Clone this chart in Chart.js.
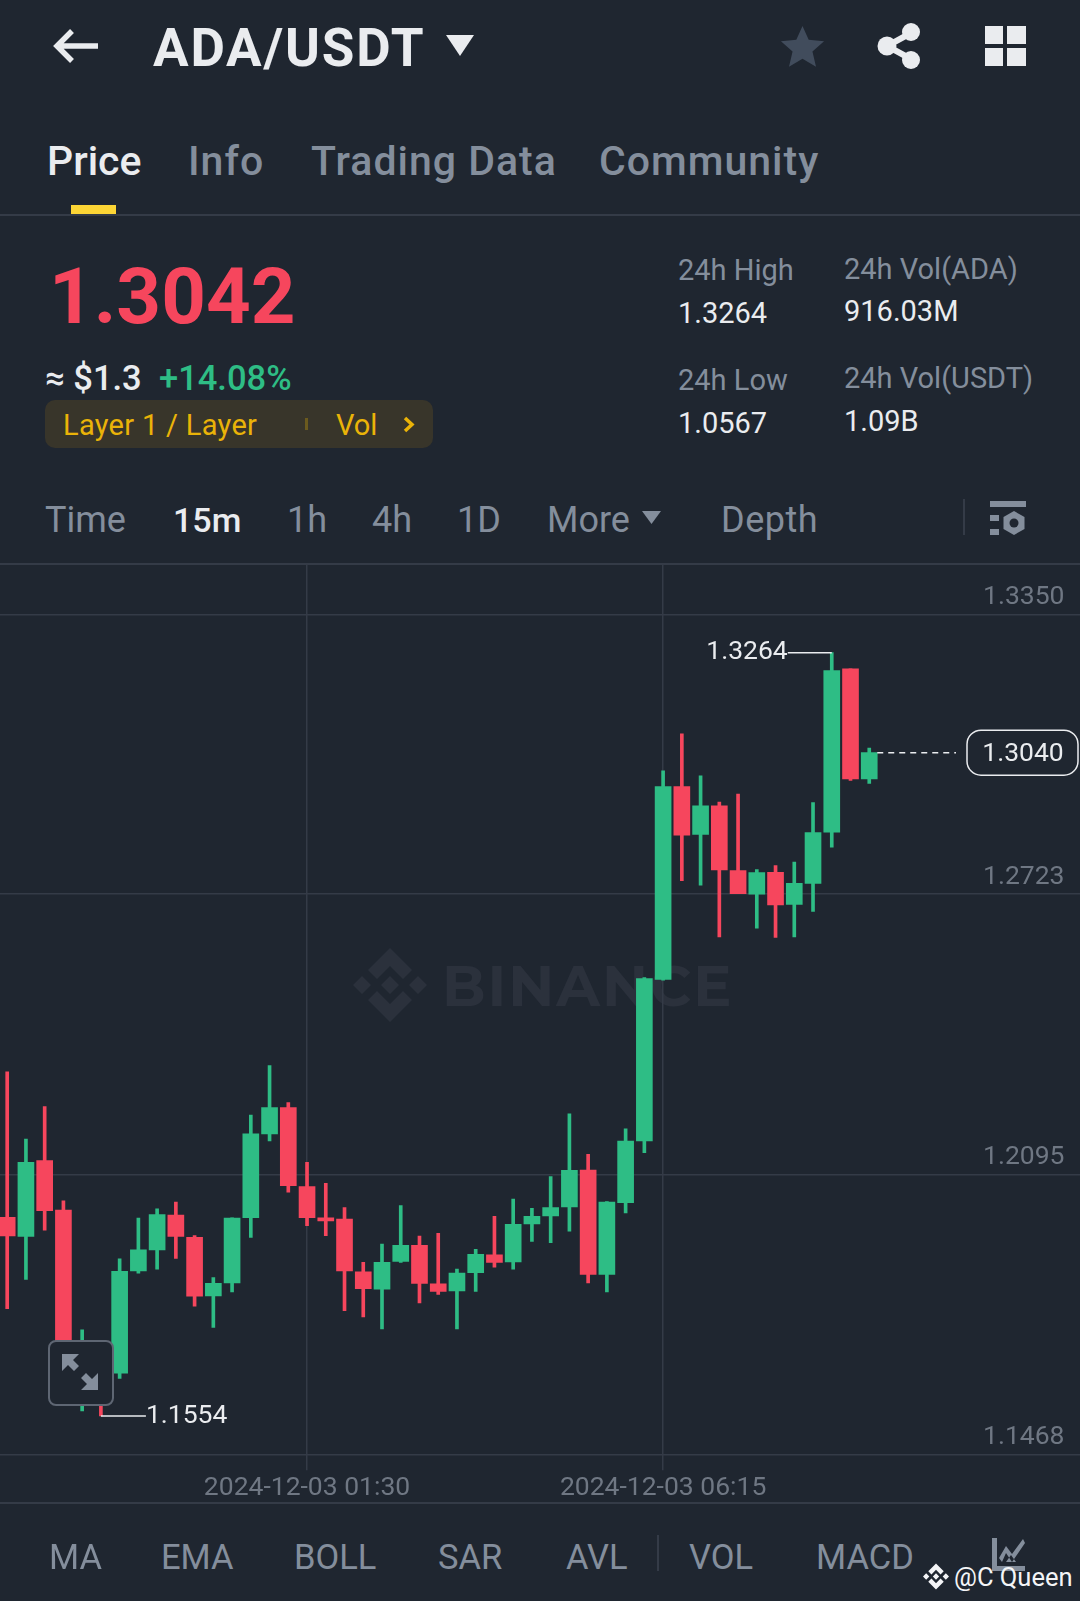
<!DOCTYPE html>
<html>
<head>
  <meta charset="UTF-8">
  <title>ADA/USDT</title>
  <script src="https://cdn.jsdelivr.net/npm/chart.js"></script>
  <style>
    html, body { margin: 0; padding: 0; background: #1f2630; }
    body { position: relative; width: 1080px; height: 1601px; overflow: hidden; font-family: Roboto, sans-serif; color: #848e9c; }
    .t { position: absolute; white-space: nowrap; line-height: 1; transform: translateY(-50%); }
    .hr { position: absolute; left: 0; width: 1080px; height: 2px; background: #343b47; }
    .w { color: #eaecef; }
    svg { position: absolute; }
    #wrap { position: absolute; left: 0; top: 564px; width: 1080px; height: 938px; }
    #expand { position: absolute; left: 48px; top: 1340px; width: 62px; height: 62px; border: 2px solid #5e6673; border-radius: 8px; background: #1f2630; }
    #mark { position: absolute; left: 442px; top: 985px; font: 700 57px Montserrat, "Open Sans", sans-serif; color: #2b313c; letter-spacing: 2px; line-height: 1; transform: translateY(-50%); }
  </style>
</head>
<body>
  <!-- header -->
  <svg style="left:52px;top:28px" width="48" height="36" viewBox="0 0 48 36"><path d="M20 3 L5 18 L20 33 M5 18 H46" fill="none" stroke="#eaecef" stroke-width="5.5"/></svg>
  <span class="t w" style="left:153px;top:48px;font-size:53px;font-weight:700;letter-spacing:1.8px;">ADA/USDT</span>
  <svg style="left:446px;top:35px" width="28" height="21"><path d="M0 0 H28 L14 21 Z" fill="#eaecef"/></svg>
  <svg style="left:780px;top:24px" width="45" height="45" viewBox="0 0 24 24"><path d="M12 1 L15.3 8.4 L23.5 9.2 L17.3 14.6 L19.2 22.8 L12 18.5 L4.8 22.8 L6.7 14.6 L0.5 9.2 L8.7 8.4 Z" fill="#414c5c"/></svg>
  <svg style="left:877px;top:23px" width="44" height="46" viewBox="0 0 44 46"><path d="M34 10 L10 23 L34 36" fill="none" stroke="#eaecef" stroke-width="6"/><circle cx="34" cy="9" r="9" fill="#eaecef"/><circle cx="10" cy="23" r="9.5" fill="#eaecef"/><circle cx="34" cy="37" r="9" fill="#eaecef"/></svg>
  <svg style="left:985px;top:26px" width="41" height="40"><rect width="18" height="18" fill="#eaecef"/><rect x="22" width="19" height="18" fill="#eaecef"/><rect y="22" width="18" height="18" fill="#eaecef"/><rect x="22" y="22" width="19" height="18" fill="#eaecef"/></svg>

  <span class="t w" style="left:47px;top:161px;font-size:41px;font-weight:500;">Price</span>
  <span class="t" style="left:188px;top:161px;font-size:41px;font-weight:500;letter-spacing:1px;">Info</span>
  <span class="t" style="left:311px;top:161px;font-size:41px;font-weight:500;letter-spacing:1px;">Trading Data</span>
  <span class="t" style="left:599px;top:161px;font-size:41px;font-weight:500;letter-spacing:1px;">Community</span>
  <div style="position:absolute;left:71px;top:205px;width:45px;height:9px;background:#fcd535;"></div>
  <div class="hr" style="top:214px;"></div>

  <!-- price block -->
  <span class="t" style="left:49px;top:297px;font-size:78px;font-weight:700;color:#f6465d;">1.3042</span>
  <span class="t w" style="left:45px;top:378px;font-size:34.5px;font-weight:500;">≈ $1.3</span>
  <span class="t" style="left:159px;top:378px;font-size:34.5px;font-weight:500;color:#2ebd85;">+14.08%</span>
  <div style="position:absolute;left:45px;top:400px;width:388px;height:48px;border-radius:10px;background:#38352a;"></div>
  <span class="t" style="left:63px;top:425px;font-size:29px;letter-spacing:.3px;color:#eab308;">Layer 1 / Layer</span>
  <div style="position:absolute;left:305px;top:418px;width:3px;height:12px;background:#6b5a1e;"></div>
  <span class="t" style="left:336px;top:425px;font-size:29px;color:#eab308;">Vol</span>
  <svg style="left:402px;top:416px" width="14" height="17"><path d="M3 2 L10 8.5 L3 15" fill="none" stroke="#eab308" stroke-width="3.5"/></svg>

  <span class="t" style="left:678px;top:270px;font-size:29px;">24h High</span>
  <span class="t w" style="left:678px;top:313px;font-size:29px;">1.3264</span>
  <span class="t" style="left:844px;top:269px;font-size:29px;">24h Vol(ADA)</span>
  <span class="t w" style="left:844px;top:311px;font-size:29px;">916.03M</span>
  <span class="t" style="left:678px;top:380px;font-size:29px;">24h Low</span>
  <span class="t w" style="left:678px;top:423px;font-size:29px;">1.0567</span>
  <span class="t" style="left:844px;top:378px;font-size:29px;">24h Vol(USDT)</span>
  <span class="t w" style="left:844px;top:421px;font-size:29px;">1.09B</span>

  <!-- interval row -->
  <span class="t" style="left:45px;top:520px;font-size:36px;">Time</span>
  <span class="t w" style="left:173px;top:520px;font-size:34px;font-weight:500;">15m</span>
  <span class="t" style="left:287px;top:520px;font-size:36px;">1h</span>
  <span class="t" style="left:372px;top:520px;font-size:36px;">4h</span>
  <span class="t" style="left:457px;top:520px;font-size:36px;">1D</span>
  <span class="t" style="left:547px;top:520px;font-size:36px;">More</span>
  <svg style="left:642px;top:511px" width="19" height="13"><path d="M0 0 H19 L9.5 13 Z" fill="#848e9c"/></svg>
  <span class="t" style="left:721px;top:520px;font-size:36px;letter-spacing:.5px;">Depth</span>
  <div style="position:absolute;left:963px;top:499px;width:2px;height:36px;background:#343b47;"></div>
  <svg style="left:990px;top:501px" width="36" height="35" viewBox="0 0 36 35"><rect width="36" height="6" fill="#848e9c"/><rect y="14" width="9" height="6" fill="#848e9c"/><rect y="28" width="9" height="6" fill="#848e9c"/><path d="M24 10 L34.5 16 V28 L24 34 L13.5 28 V16 Z" fill="#848e9c"/><circle cx="24" cy="22" r="4.5" fill="#1f2630"/></svg>
  <div class="hr" style="top:563px;"></div>

  <!-- watermark behind the candles -->
  <svg style="left:353px;top:948px" width="74" height="74" viewBox="0 0 74 74"><path d="M37 0 L59 22 L50 31 L37 18 L24 31 L15 22 Z M37 74 L59 52 L50 43 L37 56 L24 43 L15 52 Z M9 28 L18 37 L9 46 L0 37 Z M65 28 L74 37 L65 46 L56 37 Z M37 28 L46 37 L37 46 L28 37 Z" fill="#2b313c"/></svg>
  <span id="mark">BINANCE</span>

  <div id="wrap"><canvas id="chart" width="1080" height="938"></canvas></div>

  <div id="expand"></div>
  <svg style="left:60px;top:1352px" width="40" height="40" viewBox="0 0 40 40"><path d="M2 2 H19 L13 8 L19 14 L14 19 L8 13 L2 19 Z M38 38 H21 L27 32 L21 26 L26 21 L32 27 L38 21 Z" fill="#848e9c"/></svg>

  <div class="hr" style="top:1502px;"></div>

  <!-- indicator row -->
  <span class="t" style="left:49px;top:1557px;font-size:34.5px;">MA</span>
  <span class="t" style="left:161px;top:1557px;font-size:34.5px;">EMA</span>
  <span class="t" style="left:294px;top:1557px;font-size:34.5px;">BOLL</span>
  <span class="t" style="left:438px;top:1557px;font-size:34.5px;">SAR</span>
  <span class="t" style="left:566px;top:1557px;font-size:34.5px;">AVL</span>
  <div style="position:absolute;left:657px;top:1535px;width:2px;height:36px;background:#343b47;"></div>
  <span class="t" style="left:689px;top:1557px;font-size:34.5px;">VOL</span>
  <span class="t" style="left:816px;top:1557px;font-size:34.5px;">MACD</span>
  <svg style="left:992px;top:1538px" width="33" height="33" viewBox="0 0 33 33"><path d="M0 0 H5 V28 H33 V33 H0 Z M7 20 L14 8 L20 16 L31 1 L33 5 L20 24 L14 15 L10 24 Z M14 24 H24 L19 17 Z" fill="#848e9c"/></svg>
  <svg style="left:923px;top:1563px" width="26" height="27" viewBox="0 0 74 74"><path d="M37 0 L59 22 L50 31 L37 18 L24 31 L15 22 Z M37 74 L59 52 L50 43 L37 56 L24 43 L15 52 Z M9 28 L18 37 L9 46 L0 37 Z M65 28 L74 37 L65 46 L56 37 Z M37 28 L46 37 L37 46 L28 37 Z" fill="#f4f5f7"/></svg>
  <span class="t" style="left:954px;top:1578px;font-size:25.5px;color:#f4f5f7;">@C Queen</span>

  <script>
    const times = [
      '2024-12-02 21:30', '2024-12-02 21:45', '2024-12-02 22:00', '2024-12-02 22:15', '2024-12-02 22:30', '2024-12-02 22:45',
      '2024-12-02 23:00', '2024-12-02 23:15', '2024-12-02 23:30', '2024-12-02 23:45', '2024-12-03 00:00', '2024-12-03 00:15',
      '2024-12-03 00:30', '2024-12-03 00:45', '2024-12-03 01:00', '2024-12-03 01:15', '2024-12-03 01:30', '2024-12-03 01:45',
      '2024-12-03 02:00', '2024-12-03 02:15', '2024-12-03 02:30', '2024-12-03 02:45', '2024-12-03 03:00', '2024-12-03 03:15',
      '2024-12-03 03:30', '2024-12-03 03:45', '2024-12-03 04:00', '2024-12-03 04:15', '2024-12-03 04:30', '2024-12-03 04:45',
      '2024-12-03 05:00', '2024-12-03 05:15', '2024-12-03 05:30', '2024-12-03 05:45', '2024-12-03 06:00', '2024-12-03 06:15',
      '2024-12-03 06:30', '2024-12-03 06:45', '2024-12-03 07:00', '2024-12-03 07:15', '2024-12-03 07:30', '2024-12-03 07:45',
      '2024-12-03 08:00', '2024-12-03 08:15', '2024-12-03 08:30', '2024-12-03 08:45', '2024-12-03 09:00'
    ];
    const opens = [
      1.1999, 1.1956, 1.2126, 1.2015, 1.1660, 1.1660, 1.1650, 1.1879, 1.1926, 1.2004,
      1.1954, 1.1823, 1.1852, 1.1998, 1.2186, 1.2245, 1.2068, 1.1998, 1.1995, 1.1877,
      1.1838, 1.1900, 1.1936, 1.1850, 1.1834, 1.1875, 1.1915, 1.1899, 1.1984, 1.2002,
      1.2022, 1.2105, 1.1871, 1.2032, 1.2170, 1.2532, 1.2964, 1.2857, 1.2921, 1.2776,
      1.2723, 1.2772, 1.2700, 1.2747, 1.2862, 1.3228, 1.2981
    ];
    const closes = [
      1.1957, 1.2122, 1.2014, 1.1680, 1.1680, 1.1650, 1.1878, 1.1926, 1.2005, 1.1956,
      1.1822, 1.1851, 1.1997, 1.2186, 1.2245, 1.2070, 1.1998, 1.1991, 1.1879, 1.1839,
      1.1898, 1.1936, 1.1851, 1.1833, 1.1874, 1.1916, 1.1898, 1.1983, 1.2001, 1.2021,
      1.2104, 1.1871, 1.2033, 1.2170, 1.2534, 1.2964, 1.2855, 1.2921, 1.2777, 1.2724,
      1.2771, 1.2699, 1.2747, 1.2861, 1.3224, 1.2981, 1.3040
    ];
    const highs = [
      1.2325, 1.2174, 1.2247, 1.2036, 1.1747, 1.1680, 1.1906, 1.1997, 1.2018, 1.2033,
      1.1958, 1.1864, 1.1998, 1.2228, 1.2339, 1.2256, 1.2122, 1.2075, 1.2021, 1.1898,
      1.1939, 1.2025, 1.1957, 1.1963, 1.1883, 1.1927, 1.2001, 1.2040, 1.2019, 1.2090,
      1.2231, 1.2140, 1.2034, 1.2197, 1.2536, 1.2999, 1.3082, 1.2988, 1.2929, 1.2947,
      1.2778, 1.2787, 1.2795, 1.2928, 1.3264, 1.3228, 1.3050
    ];
    const lows = [
      1.1794, 1.1860, 1.1970, 1.1670, 1.1565, 1.1554, 1.1638, 1.1874, 1.1883, 1.1907,
      1.1800, 1.1752, 1.1832, 1.1954, 1.2170, 1.2055, 1.1980, 1.1958, 1.1790, 1.1776,
      1.1749, 1.1898, 1.1807, 1.1826, 1.1749, 1.1833, 1.1887, 1.1883, 1.1945, 1.1942,
      1.1968, 1.1852, 1.1832, 1.2009, 1.2144, 1.2530, 1.2753, 1.2743, 1.2627, 1.2724,
      1.2647, 1.2626, 1.2627, 1.2684, 1.2828, 1.2978, 1.2971
    ];
    const yTicks = [1.1468, 1.2095, 1.2723, 1.3350];
    const xTicks = [16, 35];
    const highMark = { index: 44, value: 1.3264 };
    const lowMark = { index: 5, value: 1.1554 };
    const lastPrice = { index: 46, value: 1.3040 };

    const UP = '#2ebd85', DOWN = '#f6465d';
    const colors = opens.map((o, i) => closes[i] >= o ? UP : DOWN);

    // marks and current price go on the canvas, positioned through the scales
    const markers = {
      id: 'markers',
      afterDatasetsDraw(c) {
        const ctx = c.ctx, x = c.scales.x, y = c.scales.y;
        ctx.save();
        ctx.font = '26.5px Roboto';
        ctx.textBaseline = 'middle';
        ctx.strokeStyle = ctx.fillStyle = '#eaecef';
        ctx.lineWidth = 1.5;

        let px = x.getPixelForValue(highMark.index), py = y.getPixelForValue(highMark.value);
        ctx.beginPath(); ctx.moveTo(px, py); ctx.lineTo(px - 44, py); ctx.stroke();
        ctx.textAlign = 'right';
        ctx.fillText(highMark.value.toFixed(4), px - 44, py);

        px = x.getPixelForValue(lowMark.index); py = y.getPixelForValue(lowMark.value);
        ctx.beginPath(); ctx.moveTo(px, py); ctx.lineTo(px + 45, py); ctx.stroke();
        ctx.textAlign = 'left';
        ctx.fillText(lowMark.value.toFixed(4), px + 45, py);

        px = x.getPixelForValue(lastPrice.index); py = y.getPixelForValue(lastPrice.value);
        ctx.setLineDash([6, 5]);
        ctx.beginPath(); ctx.moveTo(px + 8, py); ctx.lineTo(956, py); ctx.stroke();
        ctx.setLineDash([]);
        ctx.fillStyle = '#1f2630';
        ctx.beginPath(); ctx.roundRect(967, py - 22.5, 111, 45, 14); ctx.fill(); ctx.stroke();
        ctx.fillStyle = '#eaecef';
        ctx.textAlign = 'center';
        ctx.fillText(lastPrice.value.toFixed(4), 1023, py + 2);
        ctx.restore();
      }
    };

    new Chart(document.getElementById('chart').getContext('2d'), {
      type: 'bar',
      data: {
        datasets: [
          {
            label: 'wick',
            data: times.map((t, i) => ({ x: i, y: [lows[i], highs[i]] })),
            backgroundColor: colors,
            barThickness: 3,
            grouped: false,
            order: 2
          },
          {
            label: 'body',
            data: times.map((t, i) => ({ x: i, y: [opens[i], closes[i]] })),
            backgroundColor: colors,
            barThickness: 16,
            grouped: false,
            order: 1
          }
        ]
      },
      options: {
        responsive: false,
        animation: false,
        layout: { padding: 0 },
        plugins: { legend: { display: false }, tooltip: { enabled: false } },
        scales: {
          x: {
            type: 'linear',
            min: -0.384,
            max: 57.246,
            offset: false,
            border: { display: false },
            grid: { offset: false, color: '#343b47', lineWidth: 1.5, drawTicks: true, tickLength: 16, tickColor: '#343b47' },
            afterBuildTicks(s) { s.ticks = xTicks.map(v => ({ value: v })); },
            afterFit(s) { s.height = 47.7; s.paddingLeft = 0; s.paddingRight = 0; },
            ticks: {
              autoSkip: false,
              maxRotation: 0,
              padding: 2,
              color: '#6f7783',
              font: { family: 'Roboto', size: 26.5 },
              callback: v => times[v]
            }
          },
          y: {
            position: 'right',
            min: 1.1468,
            max: 1.34626,
            border: { display: false },
            grid: { color: '#343b47', lineWidth: 1.5, drawTicks: false },
            afterBuildTicks(s) { s.ticks = yTicks.map(v => ({ value: v })); },
            afterFit(s) { s.width = 0; s.paddingTop = 0; s.paddingBottom = 0; },
            ticks: {
              mirror: true,
              padding: -15.5,
              labelOffset: -17,
              color: '#6f7783',
              font: { family: 'Roboto', size: 26.5 },
              callback: v => v.toFixed(4)
            }
          }
        }
      },
      plugins: [markers]
    });
  </script>
</body>
</html>
